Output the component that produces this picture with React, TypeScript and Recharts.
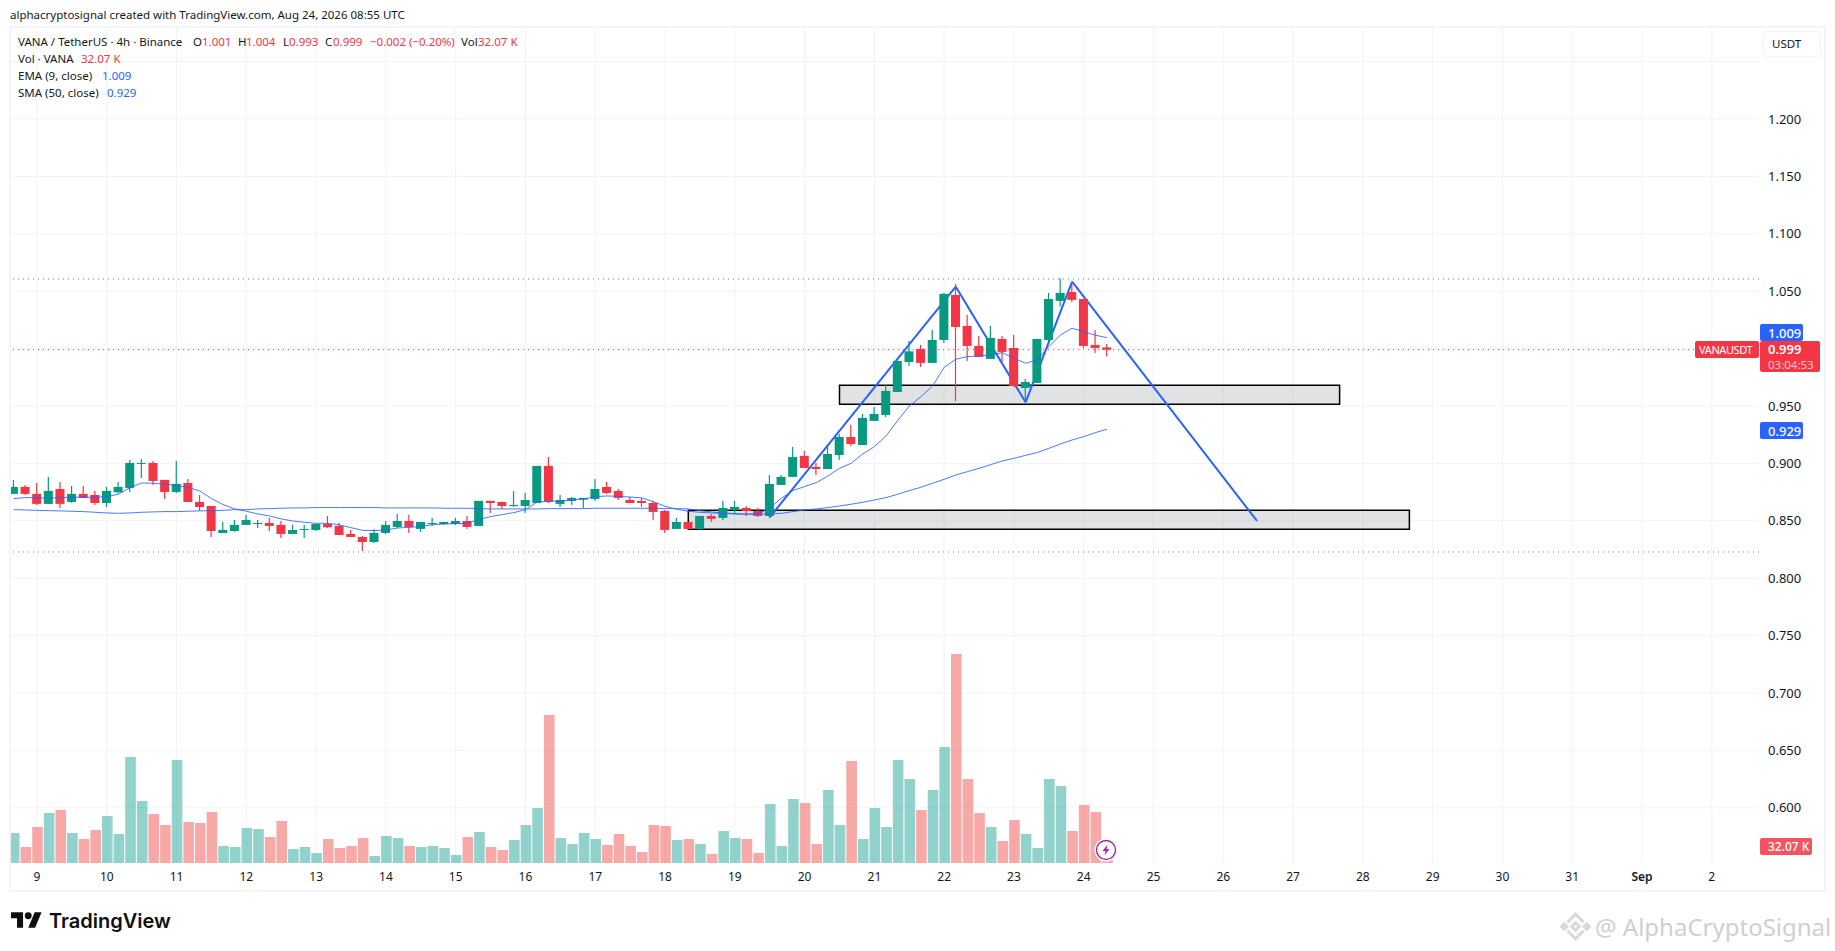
import { ComposedChart, Bar, Line, XAxis, YAxis, CartesianGrid, ReferenceLine, ReferenceArea } from 'recharts'

// 4h candles, Aug 8 16:00 -> Aug 24 08:00
const opens = [
  .8734, .8795, .8734, .8647, .8777, .8664, .8734, .8725, .8655, .8748, .8786, .8998, .9004, .8856, .8751, .8829,
  .8664, .8629, .8394, .8411, .8464, .8472, .8481, .8464, .8385, .8423, .8420, .8472, .8455, .8385, .8359, .8315,
  .8394, .8446, .8498, .8429, .8472, .8472, .8472, .8498, .8455, .8673, .8664, .8629, .8629, .8655, .8978, .8647,
  .8673, .8684, .8690, .8795, .8760, .8681, .8673, .8655, .8586, .8429, .8490, .8429, .8542, .8525, .8594, .8612,
  .8586, .8542, .8812, .8882, .9065, .8969, .8951, .9073, .9230, .9160, .9370, .9422, .9622, .9883, .9997, .9875,
  1.0075, 1.0467, 1.0197, 1.0023, .9910, 1.0084, 1.0005, .9657, .9701, 1.0075, 1.0415, 1.0493, 1.0432, 1.0032, 1.001,
]
const highs = [
  .8856, .8812, .8829, .8882, .8838, .8803, .8803, .8760, .8795, .8838, .9030, .9038, .9021, .8856, .9021, .8864,
  .8725, .8629, .8490, .8507, .8551, .8507, .8525, .8498, .8464, .8464, .8472, .8542, .8481, .8420, .8368, .8429,
  .8498, .8559, .8551, .8490, .8525, .8490, .8525, .8542, .8673, .8673, .8664, .8760, .8742, .8978, .9056, .8725,
  .8707, .8699, .8864, .8838, .8777, .8707, .8699, .8673, .8594, .8525, .8490, .8542, .8559, .8673, .8673, .8629,
  .8612, .8899, .8899, .9143, .9108, .9004, .9143, .9256, .9335, .9431, .9491, .9683, .9892, 1.0066, 1.0032, 1.0162,
  1.0485, 1.0563, 1.0293, 1.0110, 1.0197, 1.0110, 1.0119, .9735, 1.0084, 1.0485, 1.0612, 1.0580, 1.0432, 1.0162, 1.004,
]
const lows = [
  .8734, .8725, .8638, .8647, .8612, .8655, .8699, .8638, .8620, .8739, .8751, .8873, .8812, .8690, .8742, .8664,
  .8586, .8359, .8394, .8403, .8464, .8437, .8411, .8350, .8385, .8350, .8411, .8437, .8376, .8359, .8237, .8307,
  .8385, .8437, .8394, .8403, .8455, .8464, .8464, .8429, .8455, .8568, .8603, .8620, .8568, .8655, .8655, .8620,
  .8638, .8612, .8673, .8734, .8681, .8655, .8620, .8507, .8394, .8429, .8429, .8420, .8490, .8507, .8559, .8542,
  .8533, .8525, .8812, .8882, .8960, .8899, .8951, .9030, .9152, .9160, .9370, .9404, .9622, .9849, .9840, .9875,
  1.0049, .9544, .9892, .9927, .9910, .9875, .9666, .9535, .9701, 1.0046, 1.0365, 1.0406, 1.0005, .9962, .993,
]
const closes = [
  .8795, .8734, .8647, .8760, .8647, .8734, .8699, .8655, .8760, .8795, .9004, .9004, .8847, .8751, .8821, .8664,
  .8620, .8411, .8420, .8464, .8507, .8481, .8455, .8385, .8420, .8429, .8472, .8443, .8376, .8359, .8315, .8394,
  .8464, .8498, .8446, .8490, .8481, .8490, .8498, .8446, .8673, .8655, .8629, .8638, .8681, .8978, .8664, .8681,
  .8699, .8699, .8777, .8742, .8699, .8655, .8655, .8577, .8420, .8490, .8429, .8542, .8516, .8612, .8620, .8586,
  .8542, .8821, .8882, .9056, .8960, .8951, .9082, .9230, .9169, .9396, .9431, .9631, .9892, .9976, .9875, 1.0075,
  1.0476, 1.0188, 1.0023, .9927, 1.0093, .9971, .9674, .9709, 1.0084, 1.0432, 1.0485, 1.0424, 1.0023, 1.0005, .999,
]
const emaValues = [
  .8693, .8702, .8702, .8696, .8702, .8705, .8705, .8705, .8710, .8731, .8789, .8829, .8827, .8818, .8809, .8789,
  .8760, .8693, .8641, .8603, .8583, .8559, .8542, .8516, .8498, .8487, .8478, .8478, .8464, .8440, .8417, .8414,
  .8420, .8437, .8443, .8449, .8466, .8472, .8475, .8478, .8513, .8536, .8554, .8571, .8597, .8664, .8670, .8673,
  .8681, .8690, .8710, .8716, .8713, .8707, .8699, .8667, .8626, .8600, .8583, .8574, .8568, .8565, .8559, .8556,
  .8559, .8612, .8696, .8763, .8798, .8832, .8890, .8957, .9001, .9082, .9146, .9239, .9372, .9500, .9581, .9674,
  .9837, .9907, .9930, .9936, .9944, .9965, .9915, .9872, .9901, 1.0017, 1.0119, 1.0177, 1.0148, 1.0116, 1.0095,
]
const smaValues = [
  .8597, .8594, .8591, .8588, .8586, .8583, .8580, .8574, .8568, .8565, .8568, .8574, .8577, .8580, .8580, .8583,
  .8586, .8588, .8591, .8597, .8597, .8603, .8606, .8609, .8612, .8612, .8615, .8615, .8615, .8615, .8615, .8615,
  .8612, .8612, .8612, .8612, .8612, .8609, .8609, .8609, .8606, .8603, .8603, .8603, .8603, .8603, .8606, .8606,
  .8606, .8606, .8609, .8609, .8609, .8609, .8609, .8609, .8606, .8606, .8603, .8588, .8577, .8568, .8562, .8559,
  .8559, .8559, .8565, .8580, .8594, .8603, .8615, .8629, .8644, .8661, .8681, .8702, .8731, .8763, .8792, .8827,
  .8861, .8899, .8928, .8957, .8989, .9021, .9044, .9070, .9094, .9131, .9169, .9204, .9233, .9268, .9297,
]
// volume in thousands
const volumes = [
  60, 32, 72, 100, 106, 60, 48, 66, 94, 58, 212, 124, 98, 76, 206, 82, 80, 102, 34, 32, 70, 68, 52, 84,
  28, 32, 20, 48, 30, 34, 50, 14, 54, 50, 34, 32, 34, 30, 16, 52, 62, 32, 26, 46, 76, 110, 296, 50,
  38, 60, 48, 36, 58, 34, 22, 76, 74, 46, 48, 38, 18, 64, 50, 48, 20, 118, 34, 128, 120, 38, 146, 76,
  204, 48, 110, 72, 206, 168, 106, 146, 232, 418, 168, 100, 72, 44, 86, 58, 30, 168, 154, 64, 116, 102, 32.07,
]

const dayLabels = ['9', '10', '11', '12', '13', '14', '15', '16', '17', '18', '19', '20', '21', '22', '23', '24', '25', '26', '27', '28', '29', '30', '31', 'Sep', '2']
const dayTicks = dayLabels.map((_, n) => 2 + n * 6)
const priceLabels = [1.2, 1.15, 1.1, 1.05, 0.95, 0.9, 0.85, 0.8, 0.75, 0.7, 0.65, 0.6]
const priceGrid = [1.25, 1.2, 1.15, 1.1, 1.05, 1, 0.95, 0.9, 0.85, 0.8, 0.75, 0.7, 0.65, 0.6]

// hand drawn zigzag: [bar index, price]
const zigzag = [[65, .8530], [81, 1.0539], [87, .9532], [91, 1.0583], [106.9, .8498]]
const zones = [
  { x1: 71, x2: 114, y1: .9515, y2: .9680 },
  { x1: 58, x2: 120, y1: .8426, y2: .8591 },
]
const swingLevels = [1.0606, .8228]
const lastPrice = 0.999

const data = opens.map((o, i) => ({ i, o, h: highs[i], l: lows[i], c: closes[i], ema: emaValues[i], sma: smaValues[i], vol: volumes[i] }))

const UP = '#089981'
const DOWN = '#f23645'
const BLUE = '#2962ff'
const TEXT = '#131722'
const FONT = '"Noto Sans", sans-serif'

const Candle = ({ x, y, width, height, payload }: any) => {
  const { o, h, l, c } = payload
  const color = c >= o ? UP : DOWN
  const perUnit = height / (h - l)
  const top = y + (h - Math.max(o, c)) * perUnit
  const bodyH = Math.max(Math.abs(o - c) * perUnit, 1)
  return (
    <g>
      <rect x={x + width / 2 - 0.6} y={y} width={1.2} height={height} fill={color} />
      <rect x={x} y={top} width={width} height={bodyH} fill={color} />
    </g>
  )
}

const VolumeBar = ({ x, y, width, height, payload }: any) => (
  <rect x={x} y={y} width={width} height={height} fill={payload.c >= payload.o ? '#26a69a' : '#ef5350'} fillOpacity={0.5} />
)

const DayTick = ({ x, y, payload }: any) => {
  const label = dayLabels[(payload.value - 2) / 6]
  return (
    <text x={x} y={y + 10} textAnchor="middle" fill={TEXT} fontSize={12} fontFamily={FONT} fontWeight={label === 'Sep' ? 600 : 400}>
      {label}
    </text>
  )
}

const Txt = ({ x, y, color = TEXT, size = 11.5, weight = 400, children, spacing = 0 }: any) => (
  <span style={{ position: 'absolute', left: x, top: y, lineHeight: '16px', height: 16, fontFamily: FONT, fontSize: size, fontWeight: weight, letterSpacing: spacing, color, whiteSpace: 'nowrap' }}>
    {children}
  </span>
)

const Badge = ({ x, y, w, h, bg }: any) => (
  <div style={{ position: 'absolute', left: x, top: y, width: w, height: h, background: bg, borderRadius: 2 }} />
)

export default function App() {
  return (
    <div style={{ position: 'absolute', left: 0, top: 0, width: 1835, height: 951, background: '#fff', overflow: 'hidden' }}>
      <div style={{ position: 'absolute', left: 9, top: 26, width: 1813, height: 862, border: '2px solid #f3f4f6' }} />

      <div style={{ position: 'absolute', left: 0, top: 0 }}>
        <ComposedChart width={1835} height={951} data={data} margin={{ top: 27, left: 11, right: 12, bottom: 61 }}>
          <CartesianGrid xAxisId="price" yAxisId="price" stroke="#f2f3f5" strokeWidth={1} horizontalValues={priceGrid} verticalValues={dayTicks} />
          <XAxis xAxisId="price" dataKey="i" type="number" domain={[-0.236, 150.06]} allowDataOverflow ticks={dayTicks} interval={0} height={27} tick={<DayTick />} tickLine={false} axisLine={false} />
          <XAxis xAxisId="vol" dataKey="i" type="number" domain={[-0.236, 150.06]} allowDataOverflow hide />
          <YAxis yAxisId="price" orientation="right" domain={[0.5519, 1.2801]} allowDataOverflow ticks={priceLabels} interval={0} width={64} tickSize={0} tickMargin={9} tickLine={false} axisLine={false} tick={{ fill: TEXT, fontSize: 13, fontFamily: FONT, textAnchor: 'start' }} tickFormatter={(v: number) => v.toFixed(3)} />
          <YAxis yAxisId="vol" domain={[0, 1672]} allowDataOverflow hide />

          {zones.map((z, n) => (
            <ReferenceArea key={n} xAxisId="price" yAxisId="price" {...z} fill="#787b86" fillOpacity={0.22} stroke="#000" strokeWidth={1.5} />
          ))}
          {swingLevels.map(p => (
            <ReferenceLine key={p} xAxisId="price" yAxisId="price" y={p} stroke="#787b86" strokeDasharray="1 4" strokeWidth={1} zIndex={250} />
          ))}
          <ReferenceLine xAxisId="price" yAxisId="price" y={lastPrice} stroke={DOWN} strokeDasharray="1 4" strokeWidth={1} zIndex={250} />
          {zigzag.slice(1).map((pt, n) => (
            <ReferenceLine key={n} xAxisId="price" yAxisId="price" stroke={BLUE} strokeWidth={2} zIndex={250} segment={[{ x: zigzag[n][0], y: zigzag[n][1] }, { x: pt[0], y: pt[1] }]} />
          ))}

          <Bar xAxisId="vol" yAxisId="vol" dataKey="vol" barSize={10.6} shape={<VolumeBar />} isAnimationActive={false} />
          <Bar xAxisId="price" yAxisId="price" dataKey={(d: any) => [d.l, d.h]} barSize={9} shape={<Candle />} isAnimationActive={false} />
          <Line xAxisId="price" yAxisId="price" dataKey="sma" stroke={BLUE} strokeOpacity={0.85} strokeWidth={1} dot={false} isAnimationActive={false} />
          <Line xAxisId="price" yAxisId="price" dataKey="ema" stroke={BLUE} strokeOpacity={0.85} strokeWidth={1} dot={false} isAnimationActive={false} />
        </ComposedChart>
      </div>

      <Txt x={10} y={7}>alphacryptosignal created with TradingView.com, Aug 24, 2026 08:55 UTC</Txt>

      <Txt x={18} y={34}>VANA / TetherUS · 4h · Binance</Txt>
      <Txt x={193} y={34}>O</Txt><Txt x={202} y={34} color={DOWN}>1.001</Txt>
      <Txt x={238} y={34}>H</Txt><Txt x={246} y={34} color={DOWN}>1.004</Txt>
      <Txt x={283} y={34}>L</Txt><Txt x={289} y={34} color={DOWN}>0.993</Txt>
      <Txt x={325} y={34}>C</Txt><Txt x={333} y={34} color={DOWN}>0.999</Txt>
      <Txt x={370} y={34} color={DOWN}>−0.002 (−0.20%)</Txt>
      <Txt x={461} y={34}>Vol</Txt><Txt x={478} y={34} color={DOWN}>32.07 K</Txt>
      <Txt x={18} y={51}>Vol · VANA</Txt><Txt x={81} y={51} color={DOWN}>32.07 K</Txt>
      <Txt x={18} y={68}>EMA (9, close)</Txt><Txt x={102} y={68} color={BLUE}>1.009</Txt>
      <Txt x={18} y={85}>SMA (50, close)</Txt><Txt x={107} y={85} color={BLUE}>0.929</Txt>

      <div style={{ position: 'absolute', left: 1763, top: 31, width: 56, height: 24, border: '1px solid #f0f3fa', borderRadius: 4 }} />
      <Txt x={1772} y={36}>USDT</Txt>

      <Badge x={1760} y={324} w={43} h={17} bg={BLUE} />
      <Txt x={1768} y={325} size={13} weight={500} color="#fff">1.009</Txt>
      <Badge x={1695} y={341} w={64} h={17} bg={DOWN} />
      <Txt x={1699} y={342} size={11} spacing={-0.4} color="#fff">VANAUSDT</Txt>
      <Badge x={1760} y={341} w={60} h={31} bg={DOWN} />
      <Txt x={1768} y={341} size={13} weight={600} color="#fff">0.999</Txt>
      <Txt x={1768} y={357} size={11.5} color="#fbc6cb">03:04:53</Txt>
      <Badge x={1760} y={422} w={43} h={17} bg={BLUE} />
      <Txt x={1768} y={423} size={13} weight={500} color="#fff">0.929</Txt>
      <Badge x={1760} y={838} w={52} h={17} bg="#f4545f" />
      <Txt x={1768} y={839} size={12} weight={500} color="#fff">32.07 K</Txt>

      <svg style={{ position: 'absolute', left: 1094, top: 838 }} width={24} height={24} viewBox="0 0 24 24">
        <circle cx={12} cy={12} r={11.5} fill="#fff" />
        <circle cx={12} cy={12} r={9.5} fill="#fff" stroke="#9c27b0" strokeWidth={1.4} />
        <path d="M13.5 6.5 L8.5 13 H11.5 L10.5 17.5 L15.5 11 H12.5 Z" fill="#9c27b0" />
      </svg>

      <svg style={{ position: 'absolute', left: 11, top: 912 }} width={31} height={16} viewBox="0 4 36 18">
        <path d="M14 22H7V11H0V4h14v18zM28 22h-8l7.5-18h8L28 22z" fill="#0f0f0f" />
        <circle cx={20} cy={8} r={4} fill="#0f0f0f" />
      </svg>
      <span style={{ position: 'absolute', left: 49, top: 908, lineHeight: '26px', fontFamily: 'Inter, sans-serif', fontSize: 20, fontWeight: 600, color: '#0f0f0f' }}>TradingView</span>

      <svg style={{ position: 'absolute', left: 1560, top: 911 }} width={31} height={31} viewBox="0 0 29 29">
        <g fill="none" stroke="#d8d8d8" strokeWidth={2.8}>
          <path d="M7 10.5 L14.5 3 L22 10.5" />
          <path d="M7 18.5 L14.5 26 L22 18.5" />
          <path d="M11 14.5 L14.5 11 L18 14.5 L14.5 18 Z" />
          <path d="M1.5 14.5 L4 12 L6.5 14.5 L4 17 Z" />
          <path d="M22.5 14.5 L25 12 L27.5 14.5 L25 17 Z" />
        </g>
      </svg>
      <span style={{ position: 'absolute', left: 1595, top: 911, lineHeight: '32px', fontFamily: FONT, fontSize: 24, color: '#cfcfcf', whiteSpace: 'nowrap' }}>@ AlphaCryptoSignal</span>
    </div>
  )
}
